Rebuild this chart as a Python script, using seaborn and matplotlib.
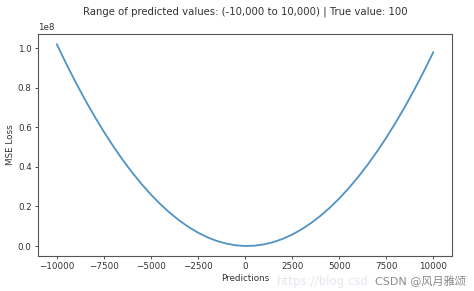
import numpy as np
import pandas as pd
import matplotlib
matplotlib.use("Agg")
import matplotlib.pyplot as plt
import seaborn as sns

# Predictions (x) and MSE loss (in units of 1e8)
predictions = [-10000, -9500, -9000, -8500, -8000, -7500, -7000, -6500, -6000, -5500,
               -5000, -4500, -4000, -3500, -3000, -2500, -2000, -1500, -1000, -500,
               0, 500, 1000, 1500, 2000, 2500, 3000, 3500, 4000, 4500,
               5000, 5500, 6000, 6500, 7000, 7500, 8000, 8500, 9000, 9500, 10000]
loss_e8 = [1.0201, 0.9216, 0.8281, 0.7396, 0.6561, 0.5776, 0.5041, 0.4356, 0.3721, 0.3136,
           0.2601, 0.2116, 0.1681, 0.1296, 0.0961, 0.0676, 0.0441, 0.0256, 0.0121, 0.0036,
           0.0001, 0.0016, 0.0081, 0.0196, 0.0361, 0.0576, 0.0841, 0.1156, 0.1521, 0.1936,
           0.2401, 0.2916, 0.3481, 0.4096, 0.4761, 0.5476, 0.6241, 0.7056, 0.7921, 0.8836, 0.9801]
x_ticks = [-10000, -7500, -5000, -2500, 0, 2500, 5000, 7500, 10000]
y_ticks = [0.0, 0.2, 0.4, 0.6, 0.8, 1.0]

df = pd.DataFrame({"Predictions": predictions, "MSE Loss": np.array(loss_e8) * 1e8})

sns.set_style("ticks")
plt.rcParams["font.family"] = ["DejaVu Sans", "Noto Sans CJK SC"]

fig = plt.figure(figsize=(4.74, 2.91), dpi=100)
ax = fig.add_axes([0.080, 0.120, 0.874, 0.763])
sns.lineplot(data=df, x="Predictions", y="MSE Loss", ax=ax, color="#4f93c4", linewidth=1.3)

ax.set_xticks(x_ticks)
ax.set_yticks([v * 1e8 for v in y_ticks])
ax.tick_params(labelsize=6.3, length=2.5, width=0.6, colors="#333333", pad=2)
ax.yaxis.get_offset_text().set_fontsize(6.3)
ax.yaxis.get_offset_text().set_color("#333333")
for s in ax.spines.values():
    s.set_color("#555555")
    s.set_linewidth(0.8)
ax.set_xlabel("Predictions", fontsize=6.3, color="#333333", labelpad=2)
ax.set_ylabel("MSE Loss", fontsize=6.3, color="#333333", labelpad=2)
ax.set_title("Range of predicted values: (-10,000 to 10,000) | True value: 100",
             fontsize=7.3, color="#333333", pad=14)

fig.text(0.585, 0.02, "https://blog.csd", fontsize=8.5, color="#e4e8ee")
fig.text(0.792, 0.022, "CSDN @风月雅颂", fontsize=8, color="#8a8a8a",
         family=["DejaVu Sans", "Noto Sans CJK SC"])

fig.savefig("out.png", dpi=100)
